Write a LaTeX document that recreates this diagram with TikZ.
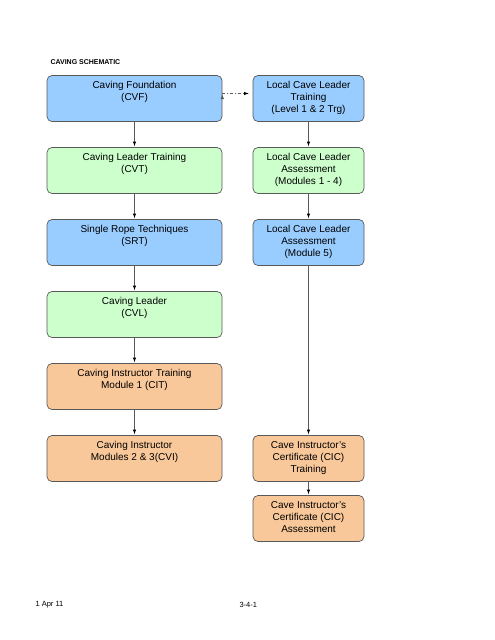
\documentclass[tikz,border=0pt]{standalone}
\usepackage{fontspec}
\setmainfont{Liberation Sans}
\usepackage{tikz}
\usetikzlibrary{positioning, arrows}
\usepackage{xcolor}

\definecolor{cvblue}{HTML}{99CCFF}
\definecolor{cvgreen}{HTML}{CCFFCC}
\definecolor{cvorange}{HTML}{F9C89A}
\definecolor{cvline}{HTML}{595959}

\newcommand{\stagetext}[2]{\parbox[t][46pt][t]{#1}{\centering\rule{0pt}{13pt}#2}}

\begin{document}
\begin{tikzpicture}[x=1pt, y=-1pt, >=latex, shorten >=1pt, node distance=72pt, on grid,
    stage/.style={draw=cvline, line width=0.7pt, rounded corners=5pt, inner sep=0pt,
                  font=\fontsize{10}{12}\selectfont},
    connector/.style={draw=cvline, line width=0.6pt}]
    \useasboundingbox (0,0) rectangle (495,640);

    \node[anchor=west, font=\fontsize{7}{8}\selectfont\bfseries] (title) at (47,62) {CAVING SCHEMATIC};

    % left column
    \node[stage, fill=cvblue] (cvf) at (134.5,98.5) {\stagetext{175pt}{Caving Foundation\\(CVF)}};
    \node[stage, fill=cvgreen] (cvt) [below=of cvf] {\stagetext{175pt}{Caving Leader Training\\(CVT)}};
    \node[stage, fill=cvblue] (srt) [below=of cvt] {\stagetext{175pt}{Single Rope Techniques\\(SRT)}};
    \node[stage, fill=cvgreen] (cvl) [below=of srt] {\stagetext{175pt}{Caving Leader\\(CVL)}};
    \node[stage, fill=cvorange] (cit) [below=of cvl] {\stagetext{175pt}{Caving Instructor Training\\Module 1 (CIT)}};
    \node[stage, fill=cvorange] (cvi) [below=of cit] {\stagetext{175pt}{Caving Instructor\\Modules 2 \& 3(CVI)}};

    % right column
    \node[stage, fill=cvblue] (lcl1) [right=174pt of cvf] {\stagetext{111pt}{Local Cave Leader\\Training\\(Level 1 \& 2 Trg)}};
    \node[stage, fill=cvgreen] (lcl2) [below=of lcl1] {\stagetext{111pt}{Local Cave Leader\\Assessment\\(Modules 1 - 4)}};
    \node[stage, fill=cvblue] (lcl3) [below=of lcl2] {\stagetext{111pt}{Local Cave Leader\\Assessment\\(Module 5)}};
    \node[stage, fill=cvorange] (cict) [right=174pt of cvi] {\stagetext{111pt}{Cave Instructor's\\Certificate (CIC)\\Training}};
    \node[stage, fill=cvorange] (cica) [below=60pt of cict] {\stagetext{111pt}{Cave Instructor's\\Certificate (CIC)\\Assessment}};

    \path[->, connector]
        (cvf) edge (cvt)
        ([yshift=5pt]cvf.east) edge[dash dot, shorten >=4pt] ([yshift=5pt]lcl1.west)
        (cvt) edge (srt)
        (srt) edge (cvl)
        (cvl) edge (cit)
        (cit) edge (cvi)
        (lcl1) edge (lcl2)
        (lcl2) edge (lcl3)
        (lcl3) edge (cict)
        (cict) edge (cica);

    % footer
    \node[anchor=west, font=\fontsize{7.5}{9}\selectfont] (date) at (32,605) {1 Apr 11};
    \node[anchor=west, font=\fontsize{7.5}{9}\selectfont] (page) at (236,605) {3-4-1};
\end{tikzpicture}
\end{document}
